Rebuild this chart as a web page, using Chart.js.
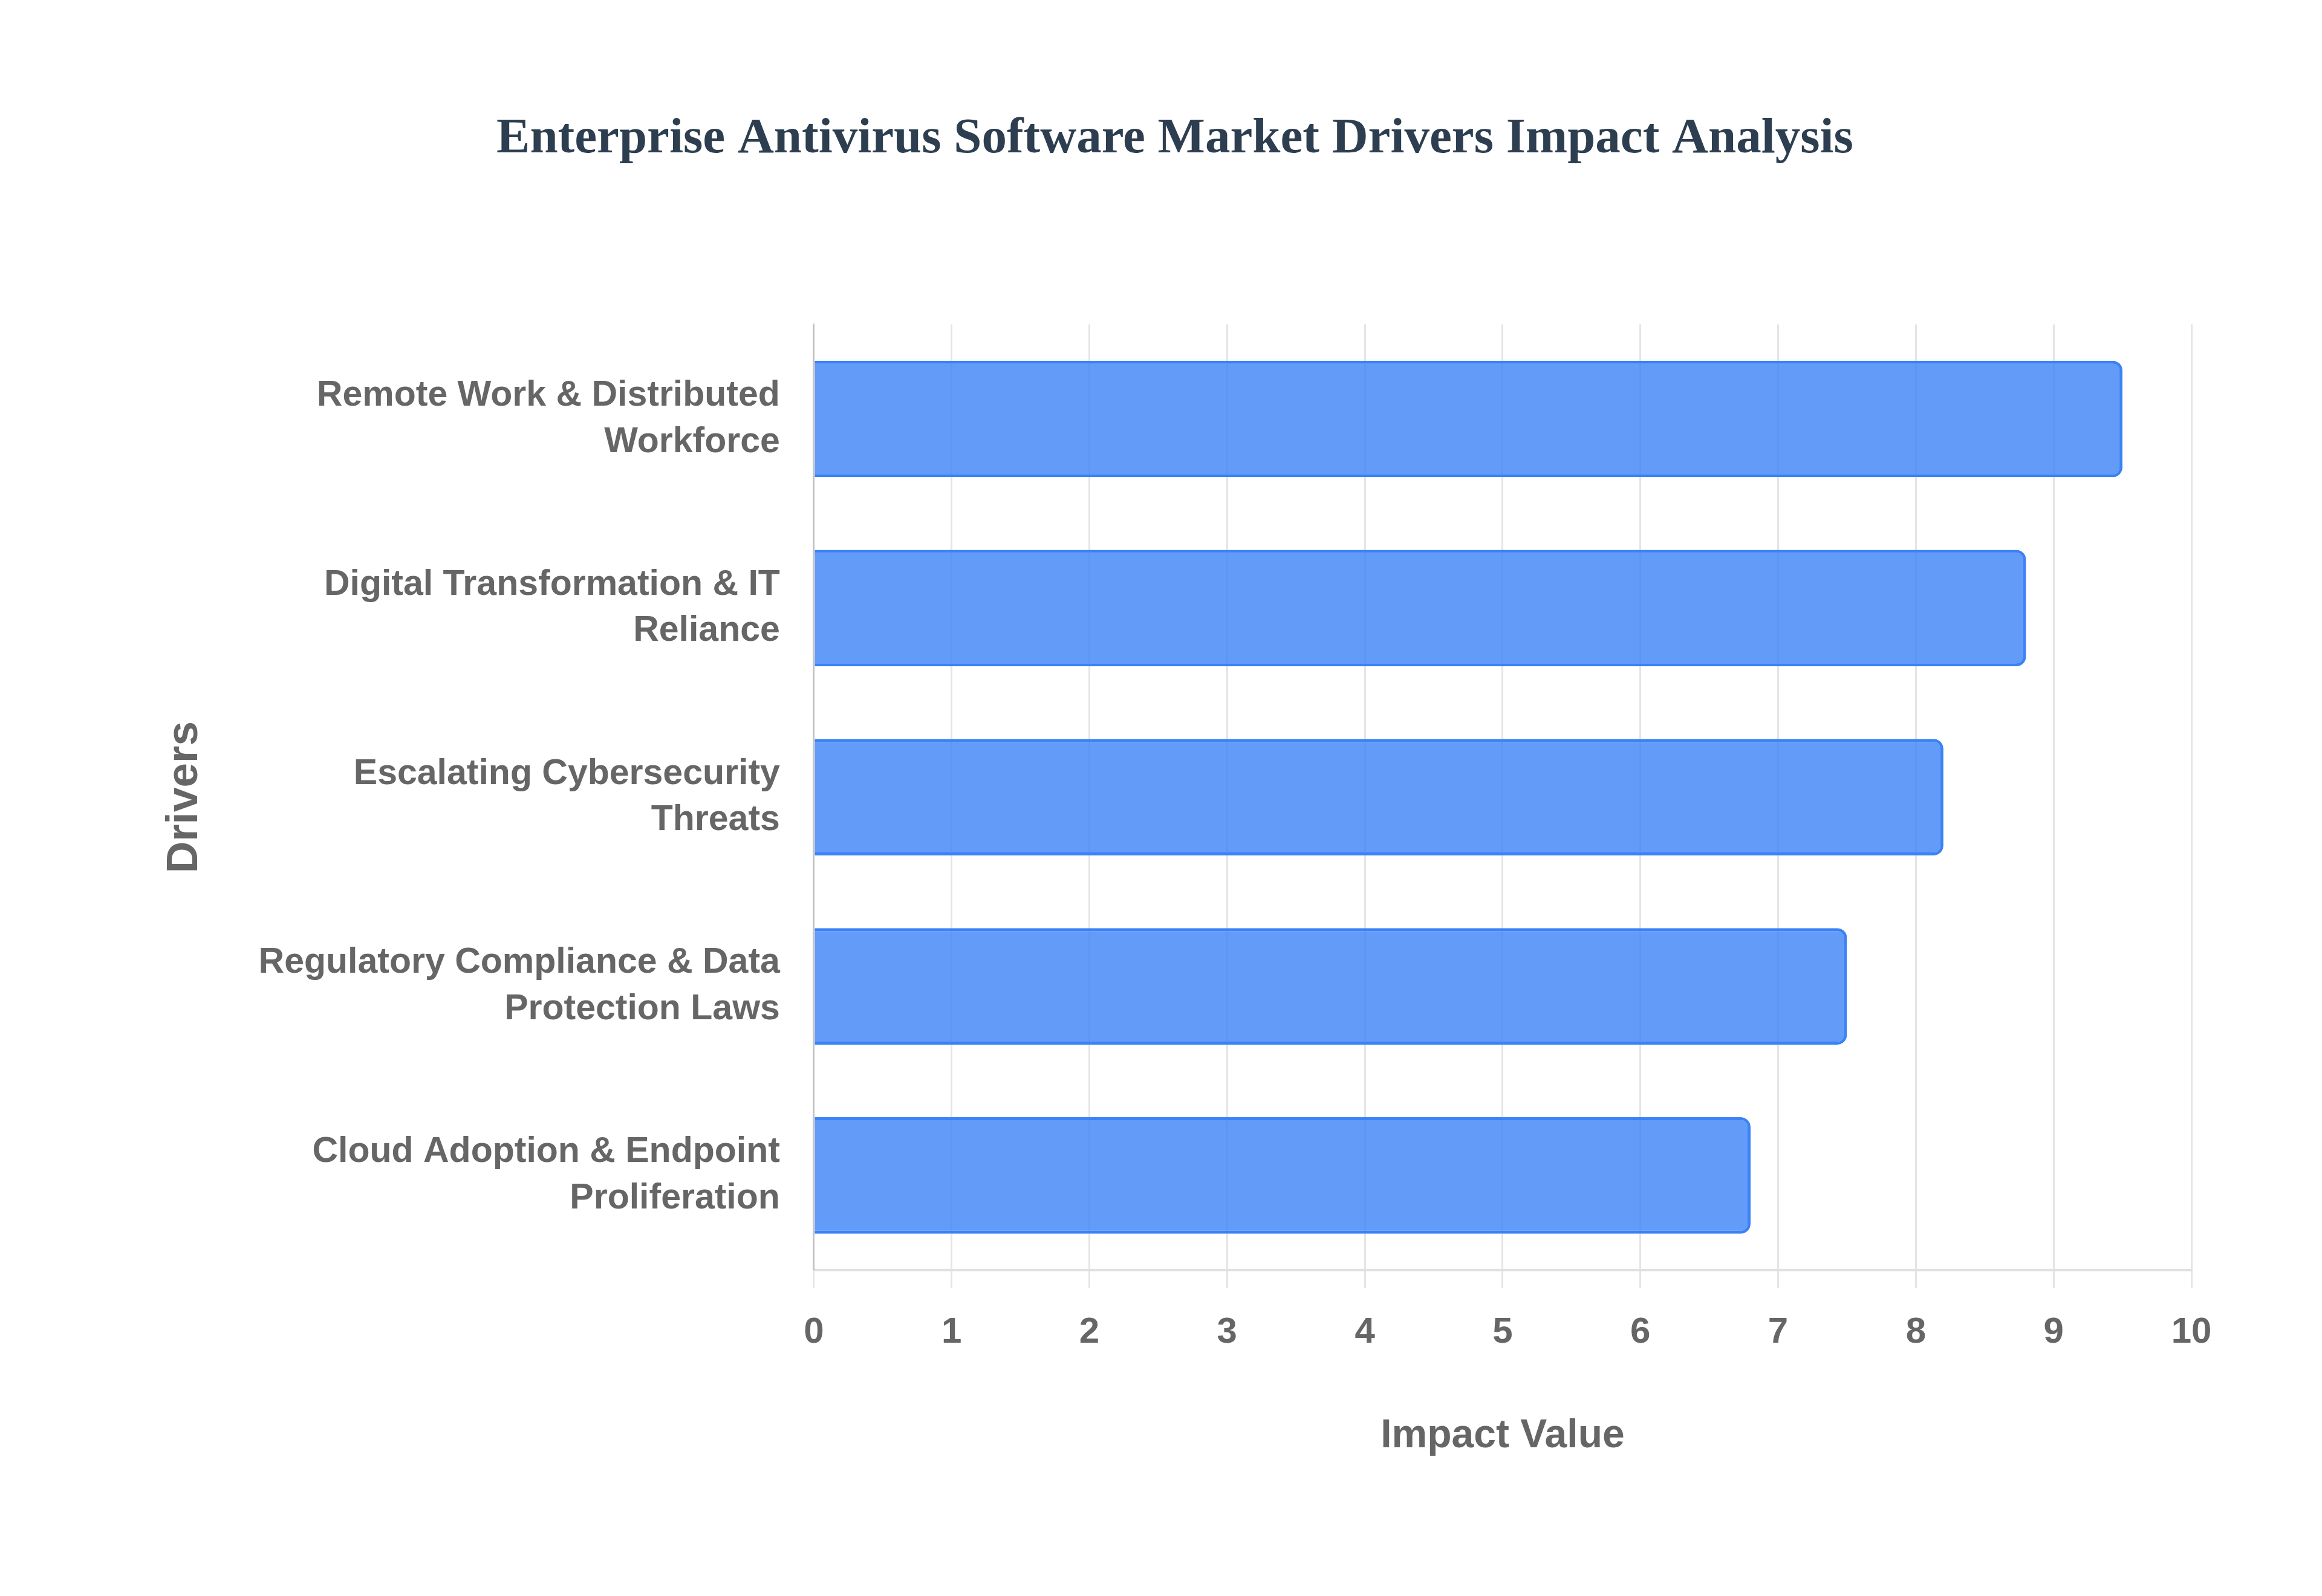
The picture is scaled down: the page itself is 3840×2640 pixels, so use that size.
<!DOCTYPE html>
<html>
<head>
<meta charset="utf-8">
<script src="https://cdn.jsdelivr.net/npm/chart.js@4"></script>
<style>
	html, body { margin:0; padding:0; background:#fff; }
	#wrap { position:relative; width:3840px; height:2640px; }
</style>
</head>
<body>
<div id="wrap"><canvas id="c"></canvas></div>
<script>
const drivers = [
	['Remote Work & Distributed', 'Workforce'],
	['Digital Transformation & IT', 'Reliance'],
	['Escalating Cybersecurity', 'Threats'],
	['Regulatory Compliance & Data', 'Protection Laws'],
	['Cloud Adoption & Endpoint', 'Proliferation'],
]
const impact = [9.5, 8.8, 8.2, 7.5, 6.8]
const xMin = 0, xMax = 10, xStep = 1

const grey = '#666'
const sans = '"Liberation Sans", Arial, sans-serif'

const chart = new Chart(document.getElementById('c'), {
	type: 'bar',
	data: {
		labels: drivers,
		datasets: [{
			label: 'Impact Value',
			data: impact,
			backgroundColor: 'rgba(59,130,246,0.8)',
			borderColor: 'rgb(59,130,246)',
			borderWidth: 5,
			borderRadius: 16,
			barPercentage: 0.77,
			categoryPercentage: 0.8,
		}]
	},
	options: {
		indexAxis: 'y',
		responsive: true,
		maintainAspectRatio: false,
		devicePixelRatio: 1,
		animation: false,
		layout: { padding: { top: 181, left: 262, right: 216, bottom: 225 } },
		plugins: {
			legend: { display: false },
			tooltip: { enabled: false },
			title: {
				display: true,
				text: 'Enterprise Antivirus Software Market Drivers Impact Analysis',
				color: '#2c3e50',
				font: { family: '"Liberation Serif", "Times New Roman", serif', size: 83, weight: 'bold' },
				padding: { top: 0, bottom: 256 },
			},
		},
		scales: {
			x: {
				min: xMin,
				max: xMax,
				ticks: {
					stepSize: xStep,
					color: grey,
					font: { family: sans, size: 60, weight: 'bold' },
					padding: 38,
				},
				grid: { color: 'rgba(0,0,0,0.1)', lineWidth: 3, tickLength: 30 },
				border: { color: 'rgba(0,0,0,0.12)', width: 4 },
				title: {
					display: true,
					text: 'Impact Value',
					color: grey,
					font: { family: sans, size: 66, weight: 'bold' },
					padding: { top: 57, bottom: 0 },
				},
			},
			y: {
				ticks: {
					color: grey,
					font: { family: sans, size: 59, weight: 'bold', lineHeight: 1.3 },
					padding: 48,
				},
				grid: { display: false },
				border: { color: 'rgba(0,0,0,0.15)', width: 3 },
				title: {
					display: true,
					text: 'Drivers',
					color: grey,
					font: { family: sans, size: 73, weight: 'bold' },
					padding: { top: 0, bottom: 30 },
				},
			},
		},
	},
})
</script>
</body>
</html>
